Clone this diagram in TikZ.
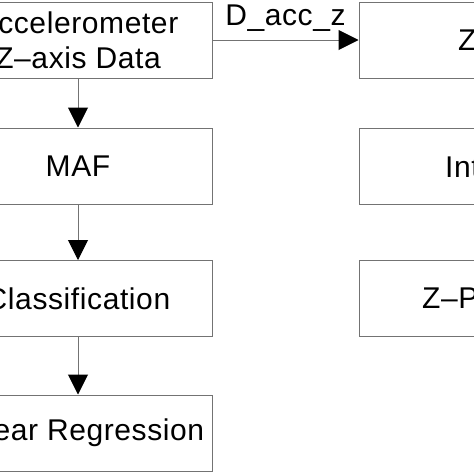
\documentclass[tikz,border=0pt]{standalone}
\usepackage{fontspec}
\setmainfont[LetterSpace=2]{Liberation Sans}
\usetikzlibrary{arrows.meta}
\tikzset{
  box/.style={draw=black!55, line width=1pt, fill=white, minimum width=268pt, minimum height=76pt, inner sep=0pt, align=center, font=\fontsize{30}{35}\selectfont},
  lbl/.style={font=\fontsize{30}{35}\selectfont, inner sep=0pt},
  arr/.style={draw=black!55, line width=1pt, -{Triangle[width=20pt,length=20pt,color=black]}, shorten >=0pt}
}
\begin{document}
\begin{tikzpicture}[x=1pt,y=-1pt]
\useasboundingbox (0,0) rectangle (474,474);
\clip (0,0) rectangle (474,474);
\fill[white] (0,0) rectangle (474,474);
% left column
\node[box] (acc) at (78,40) {Accelerometer\\Z–axis Data};
\node[box] (maf) at (78,166) {MAF};
\node[box] (cls) at (78,298.5) {Classification};
\node[box] (lin) at (78,433) {Linear Regression};
% right column
\node[box] (r1) at (493,40) {};
\node[box] (r2) at (493,166) {};
\node[box] (r3) at (493,298.5) {};
\node[lbl, anchor=base west] (t1) at (458,50) {Z};
\node[lbl, anchor=base west] (t2) at (445,177) {Int};
\node[lbl, anchor=base west] (t3) at (422,308) {Z–P};
% connectors
\draw[arr] (acc.south) -- (maf.north);
\draw[arr] (maf.south) -- (cls.north);
\draw[arr] (cls.south) -- (lin.north);
\draw[arr] (acc.east) -- (r1.west) node[midway, lbl, anchor=base, yshift=15pt] (dl) {D\_acc\_z};
\end{tikzpicture}
\end{document}
